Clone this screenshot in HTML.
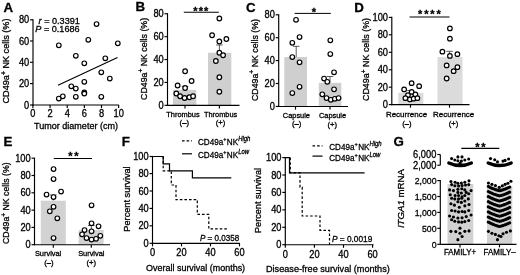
<!DOCTYPE html>
<html><head><meta charset="utf-8"><title>Figure</title>
<style>html,body{margin:0;padding:0;background:#fff;}svg{display:block;}text{font-family:"Liberation Sans", sans-serif;fill:#000;stroke:#000;stroke-width:0.3px;}</style>
</head><body>
<svg width="520" height="275" viewBox="0 0 520 275">
<rect width="520" height="275" fill="#fff"/>
<text font-size="13.3" font-weight="bold" x="3.6" y="11.8" stroke="#000" stroke-width="0.3">A</text>
<line x1="33" y1="19.225" x2="33" y2="105.575" stroke="#000" stroke-width="1.15" />
<line x1="30" y1="19.8" x2="33" y2="19.8" stroke="#000" stroke-width="1.15" />
<text font-size="10.1" transform="translate(29.2,23.3) scale(0.92,1)" text-anchor="end" x="0" y="0" >80</text>
<line x1="30" y1="41.0" x2="33" y2="41.0" stroke="#000" stroke-width="1.15" />
<text font-size="10.1" transform="translate(29.2,44.5) scale(0.92,1)" text-anchor="end" x="0" y="0" >60</text>
<line x1="30" y1="62.3" x2="33" y2="62.3" stroke="#000" stroke-width="1.15" />
<text font-size="10.1" transform="translate(29.2,65.8) scale(0.92,1)" text-anchor="end" x="0" y="0" >40</text>
<line x1="30" y1="83.6" x2="33" y2="83.6" stroke="#000" stroke-width="1.15" />
<text font-size="10.1" transform="translate(29.2,87.1) scale(0.92,1)" text-anchor="end" x="0" y="0" >20</text>
<line x1="30" y1="105.0" x2="33" y2="105.0" stroke="#000" stroke-width="1.15" />
<text font-size="10.1" transform="translate(29.2,108.5) scale(0.92,1)" text-anchor="end" x="0" y="0" >0</text>
<line x1="32.425" y1="105.0" x2="118.8" y2="105.0" stroke="#000" stroke-width="1.15" />
<line x1="32.9" y1="105.0" x2="32.9" y2="108.0" stroke="#000" stroke-width="1.15" />
<text font-size="10.1" transform="translate(32.9,116.5) scale(0.92,1)" text-anchor="middle" x="0" y="0" >0</text>
<line x1="50.05" y1="105.0" x2="50.05" y2="108.0" stroke="#000" stroke-width="1.15" />
<text font-size="10.1" transform="translate(50.05,116.5) scale(0.92,1)" text-anchor="middle" x="0" y="0" >2</text>
<line x1="67.19999999999999" y1="105.0" x2="67.19999999999999" y2="108.0" stroke="#000" stroke-width="1.15" />
<text font-size="10.1" transform="translate(67.19999999999999,116.5) scale(0.92,1)" text-anchor="middle" x="0" y="0" >4</text>
<line x1="84.35" y1="105.0" x2="84.35" y2="108.0" stroke="#000" stroke-width="1.15" />
<text font-size="10.1" transform="translate(84.35,116.5) scale(0.92,1)" text-anchor="middle" x="0" y="0" >6</text>
<line x1="101.5" y1="105.0" x2="101.5" y2="108.0" stroke="#000" stroke-width="1.15" />
<text font-size="10.1" transform="translate(101.5,116.5) scale(0.92,1)" text-anchor="middle" x="0" y="0" >8</text>
<line x1="118.65" y1="105.0" x2="118.65" y2="108.0" stroke="#000" stroke-width="1.15" />
<text font-size="10.1" transform="translate(118.65,116.5) scale(0.92,1)" text-anchor="middle" x="0" y="0" >10</text>
<text font-size="9.1" text-anchor="middle" textLength="84" lengthAdjust="spacingAndGlyphs" x="76" y="128.5" >Tumor diameter (cm)</text>
<text font-size="9.1" text-anchor="middle" textLength="85" lengthAdjust="spacingAndGlyphs" transform="translate(9,61) rotate(-90)" >CD49a<tspan font-size="6.8" dy="-3.4">+</tspan><tspan dy="3.4"> NK cells (%)</tspan></text>
<text font-size="9.1" x="38.6" y="23.6" ><tspan font-style="italic">r</tspan> = 0.3391</text>
<text font-size="9.1" x="35.3" y="32" ><tspan font-style="italic">P</tspan> = 0.1686</text>
<line x1="58" y1="85.3" x2="117.5" y2="57.5" stroke="#000" stroke-width="1.15" />
<circle cx="96.55" cy="24.05" r="2.3" fill="#fff" stroke="#000" stroke-width="1.2"/>
<circle cx="58.80" cy="45.30" r="2.3" fill="#fff" stroke="#000" stroke-width="1.2"/>
<circle cx="88.30" cy="39.80" r="2.3" fill="#fff" stroke="#000" stroke-width="1.2"/>
<circle cx="117.80" cy="43.30" r="2.3" fill="#fff" stroke="#000" stroke-width="1.2"/>
<circle cx="75.80" cy="55.80" r="2.3" fill="#fff" stroke="#000" stroke-width="1.2"/>
<circle cx="84.30" cy="63.30" r="2.3" fill="#fff" stroke="#000" stroke-width="1.2"/>
<circle cx="105.30" cy="58.30" r="2.3" fill="#fff" stroke="#000" stroke-width="1.2"/>
<circle cx="101.30" cy="72.30" r="2.3" fill="#fff" stroke="#000" stroke-width="1.2"/>
<circle cx="109.80" cy="78.55" r="2.3" fill="#fff" stroke="#000" stroke-width="1.2"/>
<circle cx="84.30" cy="81.80" r="2.3" fill="#fff" stroke="#000" stroke-width="1.2"/>
<circle cx="71.30" cy="86.30" r="2.3" fill="#fff" stroke="#000" stroke-width="1.2"/>
<circle cx="75.80" cy="88.55" r="2.3" fill="#fff" stroke="#000" stroke-width="1.2"/>
<circle cx="84.30" cy="92.50" r="2.3" fill="#fff" stroke="#000" stroke-width="1.2"/>
<circle cx="84.30" cy="93.60" r="2.3" fill="#fff" stroke="#000" stroke-width="1.2"/>
<circle cx="58.80" cy="98.55" r="2.3" fill="#fff" stroke="#000" stroke-width="1.2"/>
<circle cx="62.80" cy="96.30" r="2.3" fill="#fff" stroke="#000" stroke-width="1.2"/>
<circle cx="75.80" cy="96.80" r="2.3" fill="#fff" stroke="#000" stroke-width="1.2"/>
<circle cx="101.30" cy="96.80" r="2.3" fill="#fff" stroke="#000" stroke-width="1.2"/>
<text font-size="13.3" font-weight="bold" x="135.6" y="11.3" stroke="#000" stroke-width="0.3">B</text>
<g transform="translate(0,0.45)">
<rect x="173" y="89.5" width="23.30000000000001" height="15.299999999999997" fill="#cfcfcf"/>
<rect x="208" y="52.3" width="23.30000000000001" height="52.5" fill="#cfcfcf"/>
<line x1="167.5" y1="12.725000000000001" x2="167.5" y2="105.47500000000001" stroke="#000" stroke-width="1.15" />
<line x1="164.5" y1="13.3" x2="167.5" y2="13.3" stroke="#000" stroke-width="1.15" />
<text font-size="10.1" transform="translate(163.7,16.8) scale(0.92,1)" text-anchor="end" x="0" y="0" >80</text>
<line x1="164.5" y1="36.2" x2="167.5" y2="36.2" stroke="#000" stroke-width="1.15" />
<text font-size="10.1" transform="translate(163.7,39.7) scale(0.92,1)" text-anchor="end" x="0" y="0" >60</text>
<line x1="164.5" y1="59.1" x2="167.5" y2="59.1" stroke="#000" stroke-width="1.15" />
<text font-size="10.1" transform="translate(163.7,62.6) scale(0.92,1)" text-anchor="end" x="0" y="0" >40</text>
<line x1="164.5" y1="82.0" x2="167.5" y2="82.0" stroke="#000" stroke-width="1.15" />
<text font-size="10.1" transform="translate(163.7,85.5) scale(0.92,1)" text-anchor="end" x="0" y="0" >20</text>
<line x1="164.5" y1="104.9" x2="167.5" y2="104.9" stroke="#000" stroke-width="1.15" />
<text font-size="10.1" transform="translate(163.7,108.4) scale(0.92,1)" text-anchor="end" x="0" y="0" >0</text>
<line x1="166.925" y1="104.9" x2="239.5" y2="104.9" stroke="#000" stroke-width="1.15" />
<line x1="185" y1="104.9" x2="185" y2="108" stroke="#000" stroke-width="1.15" />
<line x1="219.4" y1="104.9" x2="219.4" y2="108" stroke="#000" stroke-width="1.15" />
<path d="M185 89.5V86M181.7 86H188.3" fill="none" stroke="#333" stroke-width="0.8"/>
<path d="M219.4 52.5V44.5M216.1 44.5H222.70000000000002" fill="none" stroke="#333" stroke-width="0.8"/>
<text font-size="9.1" text-anchor="middle" textLength="82" lengthAdjust="spacingAndGlyphs" transform="translate(146.8,58.5) rotate(-90)" >CD49a<tspan font-size="6.8" dy="-3.4">+</tspan><tspan dy="3.4"> NK cells (%)</tspan></text>
<line x1="183.8" y1="11.8" x2="218.8" y2="11.8" stroke="#000" stroke-width="1.15" />
<text font-size="11" text-anchor="middle" font-weight="bold" x="195.5" y="14.3" >*</text>
<text font-size="11" text-anchor="middle" font-weight="bold" x="200.8" y="14.3" >*</text>
<text font-size="11" text-anchor="middle" font-weight="bold" x="206.1" y="14.3" >*</text>
<text font-size="7.4" text-anchor="middle" x="183" y="116.8" >Thrombus</text>
<text font-size="7.7" text-anchor="middle" x="184.3" y="125.0" >(–)</text>
<text font-size="7.4" text-anchor="middle" x="220.6" y="116.8" >Thrombus</text>
<text font-size="7.7" text-anchor="middle" x="220.6" y="125.0" >(+)</text>
<circle cx="219.35" cy="18.05" r="2.3" fill="#fff" stroke="#000" stroke-width="1.2"/>
<circle cx="212.10" cy="34.80" r="2.3" fill="#fff" stroke="#000" stroke-width="1.2"/>
<circle cx="219.35" cy="41.05" r="2.3" fill="#fff" stroke="#000" stroke-width="1.2"/>
<circle cx="226.35" cy="38.55" r="2.3" fill="#fff" stroke="#000" stroke-width="1.2"/>
<circle cx="219.35" cy="52.30" r="2.3" fill="#fff" stroke="#000" stroke-width="1.2"/>
<circle cx="223.10" cy="54.80" r="2.3" fill="#fff" stroke="#000" stroke-width="1.2"/>
<circle cx="215.85" cy="60.55" r="2.3" fill="#fff" stroke="#000" stroke-width="1.2"/>
<circle cx="185.10" cy="70.80" r="2.3" fill="#fff" stroke="#000" stroke-width="1.2"/>
<circle cx="191.60" cy="80.55" r="2.3" fill="#fff" stroke="#000" stroke-width="1.2"/>
<circle cx="177.60" cy="85.05" r="2.3" fill="#fff" stroke="#000" stroke-width="1.2"/>
<circle cx="185.10" cy="87.55" r="2.3" fill="#fff" stroke="#000" stroke-width="1.2"/>
<circle cx="176.35" cy="93.05" r="2.3" fill="#fff" stroke="#000" stroke-width="1.2"/>
<circle cx="180.10" cy="95.80" r="2.3" fill="#fff" stroke="#000" stroke-width="1.2"/>
<circle cx="184.60" cy="97.55" r="2.3" fill="#fff" stroke="#000" stroke-width="1.2"/>
<circle cx="189.35" cy="96.80" r="2.3" fill="#fff" stroke="#000" stroke-width="1.2"/>
<circle cx="193.10" cy="95.80" r="2.3" fill="#fff" stroke="#000" stroke-width="1.2"/>
<circle cx="219.35" cy="76.80" r="2.3" fill="#fff" stroke="#000" stroke-width="1.2"/>
<circle cx="219.35" cy="91.30" r="2.3" fill="#fff" stroke="#000" stroke-width="1.2"/>
</g>
<text font-size="13.3" font-weight="bold" x="246.1" y="11.5" stroke="#000" stroke-width="0.3">C</text>
<rect x="284.3" y="57" width="22.69999999999999" height="49.400000000000006" fill="#cfcfcf"/>
<rect x="318.8" y="82.8" width="22.5" height="23.60000000000001" fill="#cfcfcf"/>
<line x1="278.7" y1="14.225000000000001" x2="278.7" y2="107.075" stroke="#000" stroke-width="1.15" />
<line x1="275.7" y1="14.8" x2="278.7" y2="14.8" stroke="#000" stroke-width="1.15" />
<text font-size="10.1" transform="translate(274.9,18.3) scale(0.92,1)" text-anchor="end" x="0" y="0" >80</text>
<line x1="275.7" y1="37.7" x2="278.7" y2="37.7" stroke="#000" stroke-width="1.15" />
<text font-size="10.1" transform="translate(274.9,41.2) scale(0.92,1)" text-anchor="end" x="0" y="0" >60</text>
<line x1="275.7" y1="60.6" x2="278.7" y2="60.6" stroke="#000" stroke-width="1.15" />
<text font-size="10.1" transform="translate(274.9,64.10000000000001) scale(0.92,1)" text-anchor="end" x="0" y="0" >40</text>
<line x1="275.7" y1="83.5" x2="278.7" y2="83.5" stroke="#000" stroke-width="1.15" />
<text font-size="10.1" transform="translate(274.9,87.0) scale(0.92,1)" text-anchor="end" x="0" y="0" >20</text>
<line x1="275.7" y1="106.4" x2="278.7" y2="106.4" stroke="#000" stroke-width="1.15" />
<text font-size="10.1" transform="translate(274.9,109.9) scale(0.92,1)" text-anchor="end" x="0" y="0" >0</text>
<line x1="278.125" y1="106.5" x2="348" y2="106.5" stroke="#000" stroke-width="1.15" />
<line x1="295.5" y1="106.5" x2="295.5" y2="109.6" stroke="#000" stroke-width="1.15" />
<line x1="330" y1="106.5" x2="330" y2="109.6" stroke="#000" stroke-width="1.15" />
<path d="M296.2 57V46.3M292.9 46.3H299.5" fill="none" stroke="#333" stroke-width="0.8"/>
<path d="M330 82.8V76.5M326.7 76.5H333.3" fill="none" stroke="#333" stroke-width="0.8"/>
<text font-size="9.1" text-anchor="middle" textLength="82" lengthAdjust="spacingAndGlyphs" transform="translate(257.5,60) rotate(-90)" >CD49a<tspan font-size="6.8" dy="-3.4">+</tspan><tspan dy="3.4"> NK cells (%)</tspan></text>
<line x1="294.6" y1="13.4" x2="330.8" y2="13.4" stroke="#000" stroke-width="1.0" />
<text font-size="11" text-anchor="middle" font-weight="bold" x="313.8" y="16.2" >*</text>
<text font-size="7.4" text-anchor="middle" x="296.4" y="117.5" >Capsule</text>
<text font-size="7.7" text-anchor="middle" x="296.7" y="126.1" >(–)</text>
<text font-size="7.4" text-anchor="middle" x="332.5" y="118.3" >Capsule</text>
<text font-size="7.7" text-anchor="middle" x="332.2" y="126.89999999999999" >(+)</text>
<circle cx="296.05" cy="19.80" r="2.3" fill="#fff" stroke="#000" stroke-width="1.2"/>
<circle cx="299.55" cy="37.05" r="2.3" fill="#fff" stroke="#000" stroke-width="1.2"/>
<circle cx="292.30" cy="42.80" r="2.3" fill="#fff" stroke="#000" stroke-width="1.2"/>
<circle cx="292.30" cy="57.05" r="2.3" fill="#fff" stroke="#000" stroke-width="1.2"/>
<circle cx="299.55" cy="62.30" r="2.3" fill="#fff" stroke="#000" stroke-width="1.2"/>
<circle cx="330.30" cy="40.30" r="2.3" fill="#fff" stroke="#000" stroke-width="1.2"/>
<circle cx="330.30" cy="54.05" r="2.3" fill="#fff" stroke="#000" stroke-width="1.2"/>
<circle cx="334.05" cy="72.30" r="2.3" fill="#fff" stroke="#000" stroke-width="1.2"/>
<circle cx="324.05" cy="78.55" r="2.3" fill="#fff" stroke="#000" stroke-width="1.2"/>
<circle cx="327.30" cy="81.80" r="2.3" fill="#fff" stroke="#000" stroke-width="1.2"/>
<circle cx="334.05" cy="89.30" r="2.3" fill="#fff" stroke="#000" stroke-width="1.2"/>
<circle cx="299.55" cy="86.80" r="2.3" fill="#fff" stroke="#000" stroke-width="1.2"/>
<circle cx="292.30" cy="93.05" r="2.3" fill="#fff" stroke="#000" stroke-width="1.2"/>
<circle cx="322.30" cy="94.30" r="2.3" fill="#fff" stroke="#000" stroke-width="1.2"/>
<circle cx="326.55" cy="98.05" r="2.3" fill="#fff" stroke="#000" stroke-width="1.2"/>
<circle cx="330.80" cy="99.80" r="2.3" fill="#fff" stroke="#000" stroke-width="1.2"/>
<circle cx="334.80" cy="98.80" r="2.3" fill="#fff" stroke="#000" stroke-width="1.2"/>
<circle cx="338.55" cy="98.05" r="2.3" fill="#fff" stroke="#000" stroke-width="1.2"/>
<text font-size="13.3" font-weight="bold" x="354.2" y="11.5" stroke="#000" stroke-width="0.3">D</text>
<rect x="398.3" y="92.8" width="25.0" height="11.799999999999997" fill="#dbdbdb"/>
<rect x="437.5" y="57" width="25.0" height="47.599999999999994" fill="#dbdbdb"/>
<line x1="391.8" y1="16.825" x2="391.8" y2="105.175" stroke="#000" stroke-width="1.15" />
<line x1="388.8" y1="17.4" x2="391.8" y2="17.4" stroke="#000" stroke-width="1.15" />
<text font-size="10.1" transform="translate(388.0,20.9) scale(0.92,1)" text-anchor="end" x="0" y="0" >100</text>
<line x1="388.8" y1="34.8" x2="391.8" y2="34.8" stroke="#000" stroke-width="1.15" />
<text font-size="10.1" transform="translate(388.0,38.3) scale(0.92,1)" text-anchor="end" x="0" y="0" >80</text>
<line x1="388.8" y1="52.3" x2="391.8" y2="52.3" stroke="#000" stroke-width="1.15" />
<text font-size="10.1" transform="translate(388.0,55.8) scale(0.92,1)" text-anchor="end" x="0" y="0" >60</text>
<line x1="388.8" y1="69.8" x2="391.8" y2="69.8" stroke="#000" stroke-width="1.15" />
<text font-size="10.1" transform="translate(388.0,73.3) scale(0.92,1)" text-anchor="end" x="0" y="0" >40</text>
<line x1="388.8" y1="87.2" x2="391.8" y2="87.2" stroke="#000" stroke-width="1.15" />
<text font-size="10.1" transform="translate(388.0,90.7) scale(0.92,1)" text-anchor="end" x="0" y="0" >20</text>
<line x1="388.8" y1="104.6" x2="391.8" y2="104.6" stroke="#000" stroke-width="1.15" />
<text font-size="10.1" transform="translate(388.0,108.1) scale(0.92,1)" text-anchor="end" x="0" y="0" >0</text>
<line x1="391.225" y1="104.6" x2="469.5" y2="104.6" stroke="#000" stroke-width="1.15" />
<line x1="410.5" y1="104.6" x2="410.5" y2="107.7" stroke="#000" stroke-width="1.15" />
<line x1="449.5" y1="104.6" x2="449.5" y2="107.7" stroke="#000" stroke-width="1.15" />
<path d="M410.5 92.8V90.5M407.2 90.5H413.8" fill="none" stroke="#333" stroke-width="0.8"/>
<path d="M449.5 57V51.3M446.2 51.3H452.8" fill="none" stroke="#333" stroke-width="0.8"/>
<text font-size="9.1" text-anchor="middle" textLength="83" lengthAdjust="spacingAndGlyphs" transform="translate(369.4,59.5) rotate(-90)" >CD49a<tspan font-size="6.8" dy="-3.4">+</tspan><tspan dy="3.4"> NK cells (%)</tspan></text>
<line x1="409.5" y1="17" x2="449.5" y2="17" stroke="#000" stroke-width="1.15" />
<text font-size="11" text-anchor="middle" font-weight="bold" x="420.17" y="17.9" >*</text>
<text font-size="11" text-anchor="middle" font-weight="bold" x="426.32" y="17.9" >*</text>
<text font-size="11" text-anchor="middle" font-weight="bold" x="432.47" y="17.9" >*</text>
<text font-size="11" text-anchor="middle" font-weight="bold" x="438.62" y="17.9" >*</text>
<text font-size="7.9" text-anchor="middle" textLength="41.2" lengthAdjust="spacingAndGlyphs" x="406.5" y="117.1" >Recurrence</text>
<text font-size="7.7" text-anchor="middle" x="406.9" y="126.0" >(–)</text>
<text font-size="7.9" text-anchor="middle" textLength="41.2" lengthAdjust="spacingAndGlyphs" x="453.7" y="117.1" >Recurrence</text>
<text font-size="7.7" text-anchor="middle" x="453.5" y="126.0" >(+)</text>
<circle cx="449.90" cy="28.40" r="2.3" fill="#fff" stroke="#000" stroke-width="1.2"/>
<circle cx="449.90" cy="38.65" r="2.3" fill="#fff" stroke="#000" stroke-width="1.2"/>
<circle cx="442.40" cy="51.65" r="2.3" fill="#fff" stroke="#000" stroke-width="1.2"/>
<circle cx="449.90" cy="55.90" r="2.3" fill="#fff" stroke="#000" stroke-width="1.2"/>
<circle cx="457.40" cy="54.15" r="2.3" fill="#fff" stroke="#000" stroke-width="1.2"/>
<circle cx="446.65" cy="65.40" r="2.3" fill="#fff" stroke="#000" stroke-width="1.2"/>
<circle cx="457.40" cy="67.15" r="2.3" fill="#fff" stroke="#000" stroke-width="1.2"/>
<circle cx="411.65" cy="83.15" r="2.3" fill="#fff" stroke="#000" stroke-width="1.2"/>
<circle cx="419.15" cy="86.15" r="2.3" fill="#fff" stroke="#000" stroke-width="1.2"/>
<circle cx="404.15" cy="89.40" r="2.3" fill="#fff" stroke="#000" stroke-width="1.2"/>
<circle cx="411.65" cy="91.90" r="2.3" fill="#fff" stroke="#000" stroke-width="1.2"/>
<circle cx="407.90" cy="95.15" r="2.3" fill="#fff" stroke="#000" stroke-width="1.2"/>
<circle cx="415.40" cy="94.40" r="2.3" fill="#fff" stroke="#000" stroke-width="1.2"/>
<circle cx="405.40" cy="98.15" r="2.3" fill="#fff" stroke="#000" stroke-width="1.2"/>
<circle cx="409.90" cy="99.40" r="2.3" fill="#fff" stroke="#000" stroke-width="1.2"/>
<circle cx="413.65" cy="98.65" r="2.3" fill="#fff" stroke="#000" stroke-width="1.2"/>
<circle cx="417.40" cy="98.15" r="2.3" fill="#fff" stroke="#000" stroke-width="1.2"/>
<circle cx="446.65" cy="78.50" r="2.3" fill="#fff" stroke="#000" stroke-width="1.2"/>
<circle cx="453.65" cy="71.15" r="2.3" fill="#fff" stroke="#000" stroke-width="1.2"/>
<text font-size="13.3" font-weight="bold" x="3.6" y="146.0" stroke="#000" stroke-width="0.3">E</text>
<rect x="40.8" y="200.7" width="25.0" height="44.0" fill="#d2d2d2"/>
<rect x="78.6" y="230" width="25.0" height="14.699999999999989" fill="#d2d2d2"/>
<line x1="34.5" y1="157.625" x2="34.5" y2="245.27499999999998" stroke="#000" stroke-width="1.15" />
<line x1="31.5" y1="158.2" x2="34.5" y2="158.2" stroke="#000" stroke-width="1.15" />
<text font-size="10.1" transform="translate(30.7,161.7) scale(0.92,1)" text-anchor="end" x="0" y="0" >100</text>
<line x1="31.5" y1="175.5" x2="34.5" y2="175.5" stroke="#000" stroke-width="1.15" />
<text font-size="10.1" transform="translate(30.7,179.0) scale(0.92,1)" text-anchor="end" x="0" y="0" >80</text>
<line x1="31.5" y1="192.8" x2="34.5" y2="192.8" stroke="#000" stroke-width="1.15" />
<text font-size="10.1" transform="translate(30.7,196.3) scale(0.92,1)" text-anchor="end" x="0" y="0" >60</text>
<line x1="31.5" y1="210.1" x2="34.5" y2="210.1" stroke="#000" stroke-width="1.15" />
<text font-size="10.1" transform="translate(30.7,213.6) scale(0.92,1)" text-anchor="end" x="0" y="0" >40</text>
<line x1="31.5" y1="227.4" x2="34.5" y2="227.4" stroke="#000" stroke-width="1.15" />
<text font-size="10.1" transform="translate(30.7,230.9) scale(0.92,1)" text-anchor="end" x="0" y="0" >20</text>
<line x1="31.5" y1="244.7" x2="34.5" y2="244.7" stroke="#000" stroke-width="1.15" />
<text font-size="10.1" transform="translate(30.7,248.2) scale(0.92,1)" text-anchor="end" x="0" y="0" >0</text>
<line x1="33.925" y1="244.7" x2="110" y2="244.7" stroke="#000" stroke-width="1.15" />
<line x1="53.3" y1="244.7" x2="53.3" y2="247.8" stroke="#000" stroke-width="1.15" />
<line x1="91.3" y1="244.7" x2="91.3" y2="247.8" stroke="#000" stroke-width="1.15" />
<path d="M53.3 200.5V195M50.0 195H56.599999999999994" fill="none" stroke="#333" stroke-width="0.8"/>
<path d="M91.3 229.8V225.5M88.0 225.5H94.6" fill="none" stroke="#333" stroke-width="0.8"/>
<text font-size="9.1" text-anchor="middle" textLength="81.5" lengthAdjust="spacingAndGlyphs" transform="translate(9.2,203.2) rotate(-90)" >CD49a<tspan font-size="6.8" dy="-3.4">+</tspan><tspan dy="3.4"> NK cells (%)</tspan></text>
<line x1="53.8" y1="158.5" x2="92" y2="158.5" stroke="#000" stroke-width="1.15" />
<text font-size="11" text-anchor="middle" font-weight="bold" x="70.3" y="159.7" >*</text>
<text font-size="11" text-anchor="middle" font-weight="bold" x="76.5" y="159.7" >*</text>
<text font-size="7.4" text-anchor="middle" x="48.1" y="256.1" >Survival</text>
<text font-size="7.7" text-anchor="middle" x="48.9" y="265.0" >(–)</text>
<text font-size="7.4" text-anchor="middle" x="91.3" y="256.1" >Survival</text>
<text font-size="7.7" text-anchor="middle" x="91.3" y="265.0" >(+)</text>
<circle cx="53.55" cy="169.05" r="2.3" fill="#fff" stroke="#000" stroke-width="1.2"/>
<circle cx="53.55" cy="179.05" r="2.3" fill="#fff" stroke="#000" stroke-width="1.2"/>
<circle cx="46.55" cy="194.55" r="2.3" fill="#fff" stroke="#000" stroke-width="1.2"/>
<circle cx="61.05" cy="191.55" r="2.3" fill="#fff" stroke="#000" stroke-width="1.2"/>
<circle cx="53.55" cy="197.05" r="2.3" fill="#fff" stroke="#000" stroke-width="1.2"/>
<circle cx="53.55" cy="206.80" r="2.3" fill="#fff" stroke="#000" stroke-width="1.2"/>
<circle cx="91.55" cy="205.30" r="2.3" fill="#fff" stroke="#000" stroke-width="1.2"/>
<circle cx="49.80" cy="211.30" r="2.3" fill="#fff" stroke="#000" stroke-width="1.2"/>
<circle cx="57.30" cy="218.30" r="2.3" fill="#fff" stroke="#000" stroke-width="1.2"/>
<circle cx="53.55" cy="238.05" r="2.3" fill="#fff" stroke="#000" stroke-width="1.2"/>
<circle cx="91.55" cy="223.30" r="2.3" fill="#fff" stroke="#000" stroke-width="1.2"/>
<circle cx="98.55" cy="226.30" r="2.3" fill="#fff" stroke="#000" stroke-width="1.2"/>
<circle cx="84.55" cy="230.05" r="2.3" fill="#fff" stroke="#000" stroke-width="1.2"/>
<circle cx="91.55" cy="231.30" r="2.3" fill="#fff" stroke="#000" stroke-width="1.2"/>
<circle cx="82.05" cy="234.30" r="2.3" fill="#fff" stroke="#000" stroke-width="1.2"/>
<circle cx="100.30" cy="235.80" r="2.3" fill="#fff" stroke="#000" stroke-width="1.2"/>
<circle cx="86.55" cy="238.05" r="2.3" fill="#fff" stroke="#000" stroke-width="1.2"/>
<circle cx="91.55" cy="239.55" r="2.3" fill="#fff" stroke="#000" stroke-width="1.2"/>
<circle cx="96.05" cy="238.80" r="2.3" fill="#fff" stroke="#000" stroke-width="1.2"/>
<text font-size="13.3" font-weight="bold" x="121.7" y="146.0" stroke="#000" stroke-width="0.3">F</text>
<line x1="182" y1="140.8" x2="192" y2="140.8" stroke="#000" stroke-width="1.2" stroke-dasharray="2.6 2"/>
<line x1="182" y1="153.8" x2="192" y2="153.8" stroke="#000" stroke-width="1.2" />
<text font-size="9.2" transform="translate(197.9,144.8) scale(0.885,1)" x="0" y="0" >CD49a<tspan font-size="6.20" dy="-3.60">+</tspan><tspan dy="3.60" dx="0.5">NK</tspan><tspan font-size="6.70" font-style="italic" dy="-3.90">High</tspan></text>
<text font-size="9.2" transform="translate(197.9,157.8) scale(0.885,1)" x="0" y="0" >CD49a<tspan font-size="6.20" dy="-3.60">+</tspan><tspan dy="3.60" dx="0.5">NK</tspan><tspan font-size="6.70" font-style="italic" dy="-3.90">Low</tspan></text>
<line x1="312.5" y1="145.8" x2="322.5" y2="145.8" stroke="#000" stroke-width="1.2" stroke-dasharray="2.6 2"/>
<line x1="312.5" y1="156.1" x2="322.5" y2="156.1" stroke="#000" stroke-width="1.2" />
<text font-size="9.2" transform="translate(329.2,150.0) scale(0.885,1)" x="0" y="0" >CD49a<tspan font-size="6.20" dy="-3.60">+</tspan><tspan dy="3.60" dx="0.5">NK</tspan><tspan font-size="6.70" font-style="italic" dy="-3.90">High</tspan></text>
<text font-size="9.2" transform="translate(329.2,160.8) scale(0.885,1)" x="0" y="0" >CD49a<tspan font-size="6.20" dy="-3.60">+</tspan><tspan dy="3.60" dx="0.5">NK</tspan><tspan font-size="6.70" font-style="italic" dy="-3.90">Low</tspan></text>
<line x1="152.5" y1="155.925" x2="152.5" y2="243.875" stroke="#000" stroke-width="1.15" />
<line x1="149.5" y1="156.5" x2="152.5" y2="156.5" stroke="#000" stroke-width="1.15" />
<text font-size="10.1" transform="translate(148.7,160.0) scale(0.92,1)" text-anchor="end" x="0" y="0" >100</text>
<line x1="149.5" y1="173.6" x2="152.5" y2="173.6" stroke="#000" stroke-width="1.15" />
<text font-size="10.1" transform="translate(148.7,177.1) scale(0.92,1)" text-anchor="end" x="0" y="0" >80</text>
<line x1="149.5" y1="191.0" x2="152.5" y2="191.0" stroke="#000" stroke-width="1.15" />
<text font-size="10.1" transform="translate(148.7,194.5) scale(0.92,1)" text-anchor="end" x="0" y="0" >60</text>
<line x1="149.5" y1="208.4" x2="152.5" y2="208.4" stroke="#000" stroke-width="1.15" />
<text font-size="10.1" transform="translate(148.7,211.9) scale(0.92,1)" text-anchor="end" x="0" y="0" >40</text>
<line x1="149.5" y1="225.8" x2="152.5" y2="225.8" stroke="#000" stroke-width="1.15" />
<text font-size="10.1" transform="translate(148.7,229.3) scale(0.92,1)" text-anchor="end" x="0" y="0" >20</text>
<line x1="149.5" y1="243.3" x2="152.5" y2="243.3" stroke="#000" stroke-width="1.15" />
<text font-size="10.1" transform="translate(148.7,246.8) scale(0.92,1)" text-anchor="end" x="0" y="0" >0</text>
<line x1="151.925" y1="243.3" x2="240" y2="243.3" stroke="#000" stroke-width="1.15" />
<line x1="152.5" y1="243.3" x2="152.5" y2="246.4" stroke="#000" stroke-width="1.15" />
<text font-size="10.1" transform="translate(152.5,256.1) scale(0.92,1)" text-anchor="middle" x="0" y="0" >0</text>
<line x1="181.5" y1="243.3" x2="181.5" y2="246.4" stroke="#000" stroke-width="1.15" />
<text font-size="10.1" transform="translate(181.5,256.1) scale(0.92,1)" text-anchor="middle" x="0" y="0" >20</text>
<line x1="210.5" y1="243.3" x2="210.5" y2="246.4" stroke="#000" stroke-width="1.15" />
<text font-size="10.1" transform="translate(210.5,256.1) scale(0.92,1)" text-anchor="middle" x="0" y="0" >40</text>
<line x1="239.5" y1="243.3" x2="239.5" y2="246.4" stroke="#000" stroke-width="1.15" />
<text font-size="10.1" transform="translate(239.5,256.1) scale(0.92,1)" text-anchor="middle" x="0" y="0" >60</text>
<text font-size="9.1" text-anchor="middle" textLength="65.3" lengthAdjust="spacingAndGlyphs" transform="translate(130.2,199) rotate(-90)" >Percent survival</text>
<text font-size="9.1" text-anchor="middle" textLength="99" lengthAdjust="spacingAndGlyphs" x="195.6" y="271" >Overall survival (months)</text>
<text font-size="8.8" textLength="39.2" lengthAdjust="spacingAndGlyphs" x="200" y="240.8" ><tspan font-style="italic">P</tspan> = 0.0358</text>
<path d="M152.5 156.5H163.2V163.9H169.5V170.8H192.4V177.8H231.3" fill="none" stroke="#000" stroke-width="1.2"/>
<path d="M163.2 156.5V170.8H171.3V185H176V199.7H197.3V214.3H208.8V228.8H227.5" fill="none" stroke="#000" stroke-width="1.2" stroke-dasharray="2.6 2"/>
<line x1="285.3" y1="157.025" x2="285.3" y2="245.27499999999998" stroke="#000" stroke-width="1.15" />
<line x1="282.3" y1="157.6" x2="285.3" y2="157.6" stroke="#000" stroke-width="1.15" />
<text font-size="10.1" transform="translate(281.5,161.1) scale(0.92,1)" text-anchor="end" x="0" y="0" >100</text>
<line x1="282.3" y1="175" x2="285.3" y2="175" stroke="#000" stroke-width="1.15" />
<text font-size="10.1" transform="translate(281.5,178.5) scale(0.92,1)" text-anchor="end" x="0" y="0" >80</text>
<line x1="282.3" y1="192.4" x2="285.3" y2="192.4" stroke="#000" stroke-width="1.15" />
<text font-size="10.1" transform="translate(281.5,195.9) scale(0.92,1)" text-anchor="end" x="0" y="0" >60</text>
<line x1="282.3" y1="209.9" x2="285.3" y2="209.9" stroke="#000" stroke-width="1.15" />
<text font-size="10.1" transform="translate(281.5,213.4) scale(0.92,1)" text-anchor="end" x="0" y="0" >40</text>
<line x1="282.3" y1="227.3" x2="285.3" y2="227.3" stroke="#000" stroke-width="1.15" />
<text font-size="10.1" transform="translate(281.5,230.8) scale(0.92,1)" text-anchor="end" x="0" y="0" >20</text>
<line x1="282.3" y1="244.7" x2="285.3" y2="244.7" stroke="#000" stroke-width="1.15" />
<text font-size="10.1" transform="translate(281.5,248.2) scale(0.92,1)" text-anchor="end" x="0" y="0" >0</text>
<line x1="284.725" y1="244.7" x2="373.5" y2="244.7" stroke="#000" stroke-width="1.15" />
<line x1="285.3" y1="244.7" x2="285.3" y2="247.8" stroke="#000" stroke-width="1.15" />
<text font-size="10.1" transform="translate(285.3,257.7) scale(0.92,1)" text-anchor="middle" x="0" y="0" >0</text>
<line x1="314.40000000000003" y1="244.7" x2="314.40000000000003" y2="247.8" stroke="#000" stroke-width="1.15" />
<text font-size="10.1" transform="translate(314.40000000000003,257.7) scale(0.92,1)" text-anchor="middle" x="0" y="0" >20</text>
<line x1="343.5" y1="244.7" x2="343.5" y2="247.8" stroke="#000" stroke-width="1.15" />
<text font-size="10.1" transform="translate(343.5,257.7) scale(0.92,1)" text-anchor="middle" x="0" y="0" >40</text>
<line x1="372.6" y1="244.7" x2="372.6" y2="247.8" stroke="#000" stroke-width="1.15" />
<text font-size="10.1" transform="translate(372.6,257.7) scale(0.92,1)" text-anchor="middle" x="0" y="0" >60</text>
<text font-size="9.1" text-anchor="middle" textLength="65" lengthAdjust="spacingAndGlyphs" transform="translate(261.3,200.5) rotate(-90)" >Percent survival</text>
<text font-size="9.1" text-anchor="middle" textLength="123.8" lengthAdjust="spacingAndGlyphs" x="327.9" y="272.3" >Disease-free survival (months)</text>
<text font-size="8.8" textLength="40.3" lengthAdjust="spacingAndGlyphs" x="332" y="241.9" ><tspan font-style="italic">P</tspan> = 0.0019</text>
<path d="M285.3 157.6H289.5V172.8H364.6" fill="none" stroke="#000" stroke-width="1.2"/>
<path d="M290.3 157.6V172.8H300V187.2H302.2V216H320V230.3H329.5V244.7" fill="none" stroke="#000" stroke-width="1.2" stroke-dasharray="2.6 2"/>
<text font-size="13.3" font-weight="bold" x="393.5" y="145.5" stroke="#000" stroke-width="0.3">G</text>
<rect x="447.5" y="184" width="25.80000000000001" height="60.30000000000001" fill="#d2d2d2"/>
<rect x="487" y="186" width="25.299999999999955" height="58.30000000000001" fill="#d2d2d2"/>
<line x1="440.3" y1="154.5" x2="440.3" y2="165.2" stroke="#000" stroke-width="1.15" />
<line x1="437.3" y1="154.5" x2="440.3" y2="154.5" stroke="#000" stroke-width="1.15" />
<text font-size="10.1" transform="translate(436.3,158.0) scale(0.92,1)" text-anchor="end" x="0" y="0" >6,000</text>
<line x1="437.3" y1="165.2" x2="440.3" y2="165.2" stroke="#000" stroke-width="1.15" />
<text font-size="10.1" transform="translate(436.3,168.7) scale(0.92,1)" text-anchor="end" x="0" y="0" >2,000</text>
<line x1="440.3" y1="180.025" x2="440.3" y2="244.875" stroke="#000" stroke-width="1.15" />
<line x1="437.3" y1="180.6" x2="440.3" y2="180.6" stroke="#000" stroke-width="1.15" />
<text font-size="9.5" transform="translate(436.5,183.89207920792077) scale(0.92,1)" text-anchor="end" x="0" y="0" >2,000</text>
<line x1="437.3" y1="196.5" x2="440.3" y2="196.5" stroke="#000" stroke-width="1.15" />
<text font-size="9.5" transform="translate(436.5,199.79207920792078) scale(0.92,1)" text-anchor="end" x="0" y="0" >1,500</text>
<line x1="437.3" y1="212.4" x2="440.3" y2="212.4" stroke="#000" stroke-width="1.15" />
<text font-size="9.5" transform="translate(436.5,215.69207920792078) scale(0.92,1)" text-anchor="end" x="0" y="0" >1,000</text>
<line x1="437.3" y1="228.3" x2="440.3" y2="228.3" stroke="#000" stroke-width="1.15" />
<text font-size="9.5" transform="translate(436.5,231.5920792079208) scale(0.92,1)" text-anchor="end" x="0" y="0" >500</text>
<line x1="437.3" y1="244.3" x2="440.3" y2="244.3" stroke="#000" stroke-width="1.15" />
<text font-size="9.5" transform="translate(436.5,247.5920792079208) scale(0.92,1)" text-anchor="end" x="0" y="0" >0</text>
<line x1="439.725" y1="244.3" x2="516.5" y2="244.3" stroke="#000" stroke-width="1.15" />
<line x1="460" y1="244.3" x2="460" y2="247.4" stroke="#000" stroke-width="1.15" />
<line x1="499.5" y1="244.3" x2="499.5" y2="247.4" stroke="#000" stroke-width="1.15" />
<text font-size="9.6" text-anchor="middle" textLength="59" lengthAdjust="spacingAndGlyphs" transform="translate(404.2,198.6) rotate(-90)" ><tspan font-style="italic">ITGA1</tspan> mRNA</text>
<line x1="461.3" y1="148.3" x2="499.3" y2="148.3" stroke="#000" stroke-width="1.15" />
<text font-size="11" text-anchor="middle" font-weight="bold" x="477.3" y="150.8" >*</text>
<text font-size="11" text-anchor="middle" font-weight="bold" x="483.3" y="150.8" >*</text>
<text font-size="8.4" text-anchor="middle" textLength="32" lengthAdjust="spacingAndGlyphs" x="460" y="255.2" >FAMILY+</text>
<text font-size="8.4" text-anchor="middle" textLength="32" lengthAdjust="spacingAndGlyphs" x="499.6" y="255.2" >FAMILY–</text>
<path d="M448.8 162.9Q460.1 168.1 471.4 162.9" fill="none" stroke="#000" stroke-width="3.3" stroke-linecap="round"/>
<circle cx="451.60" cy="158.60" r="1.55" fill="#000"/>
<circle cx="454.80" cy="160.00" r="1.55" fill="#000"/>
<circle cx="457.90" cy="156.90" r="1.55" fill="#000"/>
<circle cx="462.00" cy="156.90" r="1.55" fill="#000"/>
<circle cx="464.80" cy="160.00" r="1.55" fill="#000"/>
<circle cx="468.70" cy="159.00" r="1.55" fill="#000"/>
<circle cx="457.90" cy="160.80" r="1.55" fill="#000"/>
<circle cx="461.40" cy="161.10" r="1.55" fill="#000"/>
<circle cx="460.00" cy="163.20" r="1.55" fill="#000"/>
<path d="M488.2 162.9Q499.7 168.1 511.2 162.9" fill="none" stroke="#000" stroke-width="3.3" stroke-linecap="round"/>
<circle cx="490.50" cy="158.60" r="1.55" fill="#000"/>
<circle cx="494.70" cy="159.70" r="1.55" fill="#000"/>
<circle cx="497.50" cy="161.80" r="1.55" fill="#000"/>
<circle cx="503.00" cy="161.10" r="1.55" fill="#000"/>
<circle cx="505.10" cy="160.40" r="1.55" fill="#000"/>
<circle cx="508.60" cy="159.00" r="1.55" fill="#000"/>
<circle cx="450.94" cy="181.56" r="1.55" fill="#000"/>
<circle cx="455.11" cy="182.25" r="1.55" fill="#000"/>
<circle cx="457.89" cy="183.22" r="1.55" fill="#000"/>
<circle cx="461.36" cy="182.94" r="1.55" fill="#000"/>
<circle cx="464.83" cy="182.25" r="1.55" fill="#000"/>
<circle cx="469.00" cy="180.86" r="1.55" fill="#000"/>
<circle cx="451.64" cy="184.61" r="1.55" fill="#000"/>
<circle cx="454.83" cy="185.72" r="1.55" fill="#000"/>
<circle cx="458.58" cy="186.00" r="1.55" fill="#000"/>
<circle cx="462.06" cy="185.44" r="1.55" fill="#000"/>
<circle cx="465.53" cy="185.03" r="1.55" fill="#000"/>
<circle cx="468.72" cy="184.61" r="1.55" fill="#000"/>
<circle cx="449.56" cy="189.89" r="1.55" fill="#000"/>
<circle cx="453.44" cy="190.58" r="1.55" fill="#000"/>
<circle cx="457.89" cy="189.19" r="1.55" fill="#000"/>
<circle cx="461.78" cy="188.78" r="1.55" fill="#000"/>
<circle cx="464.83" cy="189.89" r="1.55" fill="#000"/>
<circle cx="471.08" cy="190.58" r="1.55" fill="#000"/>
<circle cx="457.89" cy="192.39" r="1.55" fill="#000"/>
<circle cx="461.36" cy="192.94" r="1.55" fill="#000"/>
<circle cx="466.22" cy="192.39" r="1.55" fill="#000"/>
<circle cx="468.72" cy="193.78" r="1.55" fill="#000"/>
<circle cx="450.25" cy="194.75" r="1.55" fill="#000"/>
<circle cx="455.11" cy="195.44" r="1.55" fill="#000"/>
<circle cx="458.58" cy="195.44" r="1.55" fill="#000"/>
<circle cx="462.06" cy="196.83" r="1.55" fill="#000"/>
<circle cx="464.83" cy="195.44" r="1.55" fill="#000"/>
<circle cx="451.64" cy="198.22" r="1.55" fill="#000"/>
<circle cx="454.83" cy="198.92" r="1.55" fill="#000"/>
<circle cx="458.58" cy="198.92" r="1.55" fill="#000"/>
<circle cx="461.78" cy="198.22" r="1.55" fill="#000"/>
<circle cx="468.31" cy="198.92" r="1.55" fill="#000"/>
<circle cx="457.89" cy="201.69" r="1.55" fill="#000"/>
<circle cx="461.36" cy="202.39" r="1.55" fill="#000"/>
<circle cx="464.83" cy="201.00" r="1.55" fill="#000"/>
<circle cx="450.94" cy="203.78" r="1.55" fill="#000"/>
<circle cx="454.42" cy="205.17" r="1.55" fill="#000"/>
<circle cx="469.00" cy="204.47" r="1.55" fill="#000"/>
<circle cx="459.28" cy="207.25" r="1.55" fill="#000"/>
<circle cx="464.83" cy="205.86" r="1.55" fill="#000"/>
<circle cx="451.64" cy="210.50" r="1.55" fill="#000"/>
<circle cx="455.11" cy="211.06" r="1.55" fill="#000"/>
<circle cx="458.58" cy="211.89" r="1.55" fill="#000"/>
<circle cx="462.06" cy="211.47" r="1.55" fill="#000"/>
<circle cx="464.83" cy="211.89" r="1.55" fill="#000"/>
<circle cx="468.72" cy="210.50" r="1.55" fill="#000"/>
<circle cx="449.56" cy="216.06" r="1.55" fill="#000"/>
<circle cx="453.44" cy="217.03" r="1.55" fill="#000"/>
<circle cx="457.89" cy="218.00" r="1.55" fill="#000"/>
<circle cx="462.06" cy="217.72" r="1.55" fill="#000"/>
<circle cx="466.22" cy="216.61" r="1.55" fill="#000"/>
<circle cx="471.08" cy="214.94" r="1.55" fill="#000"/>
<circle cx="451.64" cy="219.81" r="1.55" fill="#000"/>
<circle cx="454.83" cy="221.19" r="1.55" fill="#000"/>
<circle cx="458.58" cy="221.89" r="1.55" fill="#000"/>
<circle cx="461.78" cy="222.17" r="1.55" fill="#000"/>
<circle cx="464.83" cy="221.61" r="1.55" fill="#000"/>
<circle cx="468.72" cy="220.50" r="1.55" fill="#000"/>
<circle cx="459.97" cy="228.14" r="1.55" fill="#000"/>
<circle cx="450.94" cy="231.33" r="1.55" fill="#000"/>
<circle cx="455.81" cy="231.61" r="1.55" fill="#000"/>
<circle cx="459.97" cy="233.28" r="1.55" fill="#000"/>
<circle cx="464.83" cy="231.33" r="1.55" fill="#000"/>
<circle cx="469.00" cy="230.92" r="1.55" fill="#000"/>
<circle cx="462.06" cy="236.47" r="1.55" fill="#000"/>
<circle cx="457.89" cy="239.67" r="1.55" fill="#000"/>
<circle cx="488.44" cy="182.94" r="1.55" fill="#000"/>
<circle cx="491.92" cy="184.33" r="1.55" fill="#000"/>
<circle cx="495.39" cy="185.44" r="1.55" fill="#000"/>
<circle cx="499.28" cy="187.39" r="1.55" fill="#000"/>
<circle cx="502.33" cy="185.72" r="1.55" fill="#000"/>
<circle cx="505.11" cy="184.33" r="1.55" fill="#000"/>
<circle cx="507.89" cy="183.22" r="1.55" fill="#000"/>
<circle cx="510.94" cy="181.28" r="1.55" fill="#000"/>
<path d="M488.3 186.4Q494.0 189.5 499.6 190.8Q505.2 189.5 510.9 186.4" fill="none" stroke="#000" stroke-width="3.1" stroke-linecap="round" stroke-linejoin="round" stroke-dasharray="0.01 1.75"/>
<path d="M488.3 191.5Q494.0 194.6 499.6 195.9Q505.2 194.6 510.9 191.5" fill="none" stroke="#000" stroke-width="3.1" stroke-linecap="round" stroke-linejoin="round" stroke-dasharray="0.01 1.75"/>
<path d="M488.3 196.6Q494.0 199.7 499.6 201.0Q505.2 199.7 510.9 196.6" fill="none" stroke="#000" stroke-width="3.1" stroke-linecap="round" stroke-linejoin="round" stroke-dasharray="0.01 1.75"/>
<path d="M488.3 201.7Q494.0 204.8 499.6 206.1Q505.2 204.8 510.9 201.7" fill="none" stroke="#000" stroke-width="3.1" stroke-linecap="round" stroke-linejoin="round" stroke-dasharray="0.01 1.75"/>
<path d="M488.3 206.8Q494.0 209.9 499.6 211.2Q505.2 209.9 510.9 206.8" fill="none" stroke="#000" stroke-width="3.1" stroke-linecap="round" stroke-linejoin="round" stroke-dasharray="0.01 1.75"/>
<path d="M488.3 211.9Q494.0 215.0 499.6 216.3Q505.2 215.0 510.9 211.9" fill="none" stroke="#000" stroke-width="3.1" stroke-linecap="round" stroke-linejoin="round" stroke-dasharray="0.01 1.75"/>
<path d="M488.3 217.0Q494.0 220.1 499.6 221.4Q505.2 220.1 510.9 217.0" fill="none" stroke="#000" stroke-width="3.1" stroke-linecap="round" stroke-linejoin="round" stroke-dasharray="0.01 1.75"/>
<path d="M488.3 222.1Q494.0 225.2 499.6 226.5Q505.2 225.2 510.9 222.1" fill="none" stroke="#000" stroke-width="3.1" stroke-linecap="round" stroke-linejoin="round" stroke-dasharray="0.01 1.75"/>
<circle cx="488.44" cy="231.33" r="1.55" fill="#000"/>
<circle cx="491.92" cy="233.28" r="1.55" fill="#000"/>
<circle cx="495.39" cy="234.39" r="1.55" fill="#000"/>
<circle cx="498.86" cy="235.78" r="1.55" fill="#000"/>
<circle cx="500.94" cy="236.47" r="1.55" fill="#000"/>
<circle cx="503.03" cy="233.69" r="1.55" fill="#000"/>
<circle cx="506.50" cy="232.31" r="1.55" fill="#000"/>
<circle cx="510.39" cy="230.92" r="1.55" fill="#000"/>
<circle cx="497.47" cy="239.67" r="1.55" fill="#000"/>
</svg>
</body></html>
